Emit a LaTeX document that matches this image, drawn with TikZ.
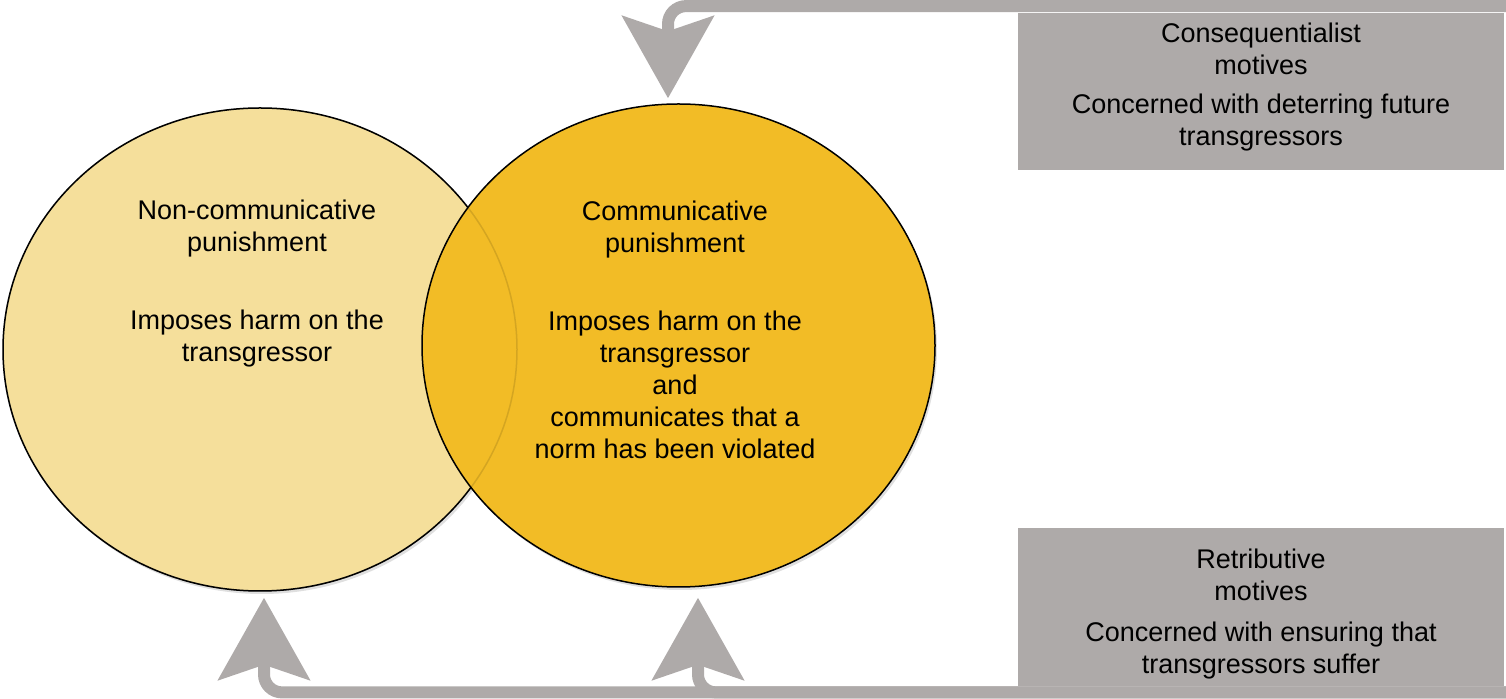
\documentclass[tikz,border=0pt]{standalone}
\usepackage{fontspec}
\setmainfont{Liberation Sans}
\usetikzlibrary{arrows.meta,shadows,shapes.geometric,calc}
\definecolor{conngray}{RGB}{174,170,169}
\definecolor{paleyellow}{RGB}{245,223,155}
\definecolor{goldfill}{RGB}{242,188,38}
\begin{document}
\begin{tikzpicture}[x=0.5pt,y=-0.5pt,
  txt/.style={font=\fontsize{13.5pt}{16pt}\selectfont, align=center, inner sep=0pt, text=black},
  conn/.style={draw=conngray, line width=6pt, rounded corners=9pt,
    -{Stealth[length=41pt,width=45.5pt,inset=7.5pt]}},
  motivebox/.style={fill=conngray, draw=none, minimum width=243pt, inner sep=0pt},
  venn/.style={ellipse, draw=black, line width=0.75pt, inner sep=0pt,
    drop shadow={shadow xshift=1pt, shadow yshift=-1.5pt, opacity=0.25}}
]
\useasboundingbox (0,0) rectangle (1506,699);

% Venn ellipses
\node[venn, fill=paleyellow, minimum width=257pt, minimum height=241.5pt] (lc) at (260,349.5) {};
\node[venn, fill=goldfill, minimum width=256.5pt, minimum height=241.5pt] (rc) at (678.5,345.5) {};
\draw[black, opacity=0.12, line width=0.75pt] (lc.center) ellipse [x radius=128.5pt, y radius=120.75pt];

% Motive boxes
\node[motivebox, minimum height=78.5pt] (topbox) at (1261,91.5) {};
\node[motivebox, minimum height=79pt] (botbox) at (1261,607) {};

% Texts (base anchor = baseline of the last line)
\node[txt, anchor=base] (lt) at (257,361.7)
  {Non-communicative\\punishment\\[23pt]Imposes harm on the\\transgressor};
\node[txt, anchor=base] (rt) at (675,458.7)
  {Communicative\\punishment\\[23pt]Imposes harm on the\\transgressor\\and\\communicates that a\\norm has been violated};
\node[txt, anchor=base] (tt) at (1261,145.7)
  {Consequentialist\\motives\\[3.5pt]Concerned with deterring future\\transgressors};
\node[txt, anchor=base] (bt) at (1261,673.7)
  {Retributive\\motives\\[4.5pt]Concerned with ensuring that\\transgressors suffer};

% Connectors
\coordinate (tS) at ($(topbox.north east)+(2,-6.5)$);
\coordinate (tipT) at ($(rc.north)+(-10.5,-5)$);
\coordinate (bS) at ($(botbox.south east)+(2,6)$);
\coordinate (tipL) at ($(lc.south)+(4,6)$);
\coordinate (tipR) at ($(rc.south)+(19.5,10)$);
\draw[conn] (tS) -| (tipT);
\draw[conn] (bS) -| (tipL);
\draw[conn] (bS) -| (tipR);
\end{tikzpicture}
\end{document}
